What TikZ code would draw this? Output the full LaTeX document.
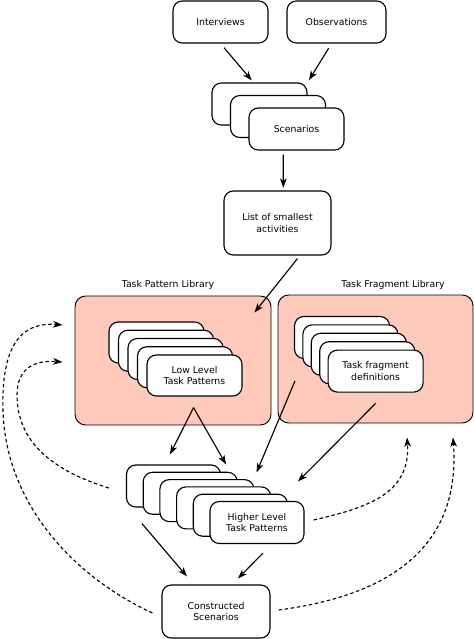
\documentclass[tikz,border=0pt]{standalone}
\usepackage{fontspec}
\setmainfont{DejaVu Sans}
\usetikzlibrary{arrows.meta,calc}

\definecolor{libpink}{RGB}{255,201,187}

\tikzset{
    box/.style={draw, line width=0.85pt, rounded corners=7pt, fill=white, align=center, inner sep=0pt,
        minimum width=71.25pt, minimum height=31.5pt, font=\fontsize{7}{8.6}\selectfont},
    libbox/.style={draw, line width=0.7pt, rounded corners=8pt, fill=libpink, inner sep=0pt},
    liblabel/.style={inner sep=0.75pt, font=\fontsize{7}{8.6}\selectfont},
    arr/.style={-{Stealth[length=7pt,width=5pt,inset=2pt]}, line width=0.85pt},
    dsh/.style={arr, dash pattern=on 2.6pt off 2pt}
}

\begin{document}
\begin{tikzpicture}[x=0.75pt,y=0.75pt,yscale=-1,xscale=1]
        \useasboundingbox (0,0) rectangle (474,639);

        % Sources
        \node [box] (intv) at (220.5,22) {Interviews};
        \node [box, minimum width=74.25pt] (obs) at (336.5,22) {Observations};

        % Scenarios stack
        \node [box] (s1) at (259.5,104) {};
        \node [box] (s2) at (278,116.5) {};
        \node [box] (s3) at (296.5,129) {Scenarios};

        % List of activities
        \node [box, minimum width=80.25pt, minimum height=48pt] (list) at (277.5,223) {List of smallest\\activities};

        % Libraries
        \node [libbox, minimum width=147pt, minimum height=96.75pt] (tpl) at (173,360.5) {};
        \node [libbox, minimum width=146.25pt, minimum height=96pt] (tfl) at (375.5,359) {};
        \node [liblabel] (tpllab) at (168,285) {Task Pattern Library};
        \node [liblabel] (tfllab) at (393,285) {Task Fragment Library};

        % Low level task patterns stack
        \node [box, minimum height=30.75pt] (l1) at (156.5,342.5) {};
        \node [box, minimum height=30.75pt] (l2) at (166,350.75) {};
        \node [box, minimum height=30.75pt] (l3) at (175.5,359) {};
        \node [box, minimum height=30.75pt] (l4) at (185,367.25) {};
        \node [box, minimum height=30.75pt] (l5) at (194.5,375.5) {Low Level\\Task Patterns};

        % Task fragment stack
        \node [box] (f1) at (342,337.5) {};
        \node [box] (f2) at (350.4,345.9) {};
        \node [box] (f3) at (358.8,354.3) {};
        \node [box] (f4) at (367.2,362.7) {};
        \node [box] (f5) at (375.6,371.1) {Task fragment\\definitions};

        % Higher level task patterns stack
        \node [box, minimum width=70.5pt] (h1) at (173.5,486) {};
        \node [box, minimum width=70.5pt] (h2) at (190.2,493.3) {};
        \node [box, minimum width=70.5pt] (h3) at (206.9,500.6) {};
        \node [box, minimum width=70.5pt] (h4) at (223.6,507.9) {};
        \node [box, minimum width=70.5pt] (h5) at (240.3,515.2) {};
        \node [box, minimum width=70.5pt] (h6) at (257,522.5) {Higher Level\\Task Patterns};

        % Result
        \node [box, minimum width=81pt, minimum height=39.75pt] (cons) at (216,611.5) {Constructed\\Scenarios};

        % Solid arrows
        \draw [arr, shorten <=4pt, shorten >=2pt] (intv.south) -- ($(s1.north)+(-6,0)$);
        \draw [arr, shorten <=4pt, shorten >=2pt] ($(obs.south)+(-5,0)$) -- (s1.north east);
        \draw [arr, shorten <=3pt, shorten >=2pt] ($(s3.south)+(-13.2,0)$) -- ($(list.north)+(5.8,0)$);
        \draw [arr] ($(list.south)+(20,3)$) -- ($(tpl.north east)+(-17,17)$);
        \draw [arr] ($(l5.south)+(-1,11)$) -- ($(h1.north)+(-3.5,-10)$);
        \draw [arr] ($(l5.south)+(-1,11)$) -- ($(h1.north east)+(5,0)$);
        \draw [arr] ($(f1.south west)+(1,22)$) -- ($(h4.north)+(33,-14)$);
        \draw [arr] ($(tfl.south)+(0,-20)$) -- ($(h6.north)+(41,-19.5)$);
        \draw [arr] ($(h1.south west)+(16,16)$) -- ($(cons.north)+(-29,-8)$);
        \draw [arr] ($(h6.south)+(6,9)$) -- ($(cons.north)+(22,-6)$);

        % Dashed feedback arrows
        \draw [dsh] ($(cons.west)+(-9,1.5)$) .. controls (70,575) and (5,500) .. (3,410) .. controls (1,340) and (25,322) .. ($(tpl.west)+(-12,-35.5)$);
        \draw [dsh] ($(h1.west)+(-17,2)$) .. controls (50,470) and (17,440) .. (17,395) .. controls (17,368) and (35,360) .. ($(tpl.west)+(-12,1.5)$);
        \draw [dsh] ($(h6.east)+(9,-2.5)$) .. controls (365,508) and (411,495) .. ($(tfl.south)+(31.5,14)$);
        \draw [dsh] ($(cons.east)+(8,-1.5)$) .. controls (370,598) and (462,560) .. ($(tfl.south)+(77.5,14)$);

\end{tikzpicture}
\end{document}
